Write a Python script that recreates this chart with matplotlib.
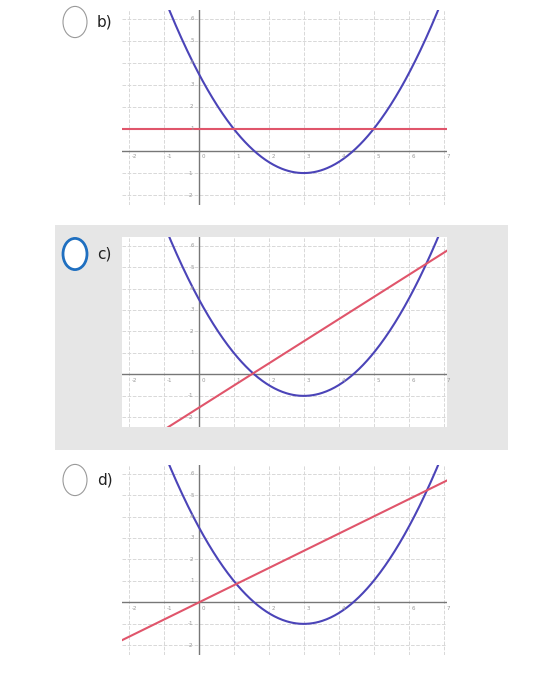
import numpy as np
import matplotlib.pyplot as plt
from matplotlib.patches import Rectangle, Circle

labels = ["b)", "c)", "d)"]
# red line y = m*x + c for each option
slopes = [0.0, 1.03, 0.8]
intercepts = [1.0, -1.55, 0.0]
# parabola y = a*(x-h)^2 + k
a, h, k = 0.5, 3.0, -1.0
xticks = [-2, -1, 0, 1, 2, 3, 4, 5, 6, 7]
yticks = [-2, -1, 0, 1, 2, 3, 4, 5, 6]

W, H = 539, 700
fig = plt.figure(figsize=(W / 100, H / 100), dpi=100)
fig.patch.set_facecolor("white")

# gray background of selected option c)
bg = fig.add_axes([55 / W, 1 - 450 / H, 453 / W, 225 / H], zorder=-5)
bg.set_facecolor("#e6e6e6")
bg.set_xticks([])
bg.set_yticks([])
for s in bg.spines.values():
    s.set_visible(False)

tops = [10, 237, 465]
heights = [195, 190, 190]
circle_y = [22, 254, 480]
for i, lab in enumerate(labels):
    ax = fig.add_axes([122 / W, 1 - (tops[i] + heights[i]) / H, 325 / W, heights[i] / H])
    ax.set_facecolor("white")
    ax.set_xlim(-2.2, 7.1)
    ax.set_ylim(-2.45, 6.4)
    ax.set_xticks(xticks)
    ax.set_yticks(yticks)
    ax.grid(True, color="#d8d8d8", linestyle="--", linewidth=0.7)
    ax.tick_params(length=0, labelsize=0)
    ax.set_xticklabels([])
    ax.set_yticklabels([])
    for s in ax.spines.values():
        s.set_visible(False)
    ax.axhline(0, color="#777777", lw=1)
    ax.axvline(0, color="#777777", lw=1)
    for t in xticks:
        ax.text(t + 0.08, -0.15, str(t), fontsize=4, color="#999999", va="top")
    for t in yticks:
        if t != 0:
            ax.text(-0.15, t, str(t), fontsize=4, color="#999999", ha="right", va="center")
    x = np.linspace(-2.2, 7.1, 400)
    ax.plot(x, a * (x - h) ** 2 + k, color="#4b44b8", lw=1.5)
    ax.plot(x, slopes[i] * x + intercepts[i], color="#e0556b", lw=1.5)

    cy = 1 - circle_y[i] / H
    col = "#1f6fc0" if i == 1 else "#9a9a9a"
    lw = 2 if i == 1 else 0.8
    fig.patches.append(Circle((75 / W, cy), 12 / W, transform=fig.transFigure,
                              facecolor="white", edgecolor=col, lw=lw))
    fig.text(97 / W, cy, lab, fontsize=11, va="center", color="#222222")

fig.savefig("out.png", dpi=100)
